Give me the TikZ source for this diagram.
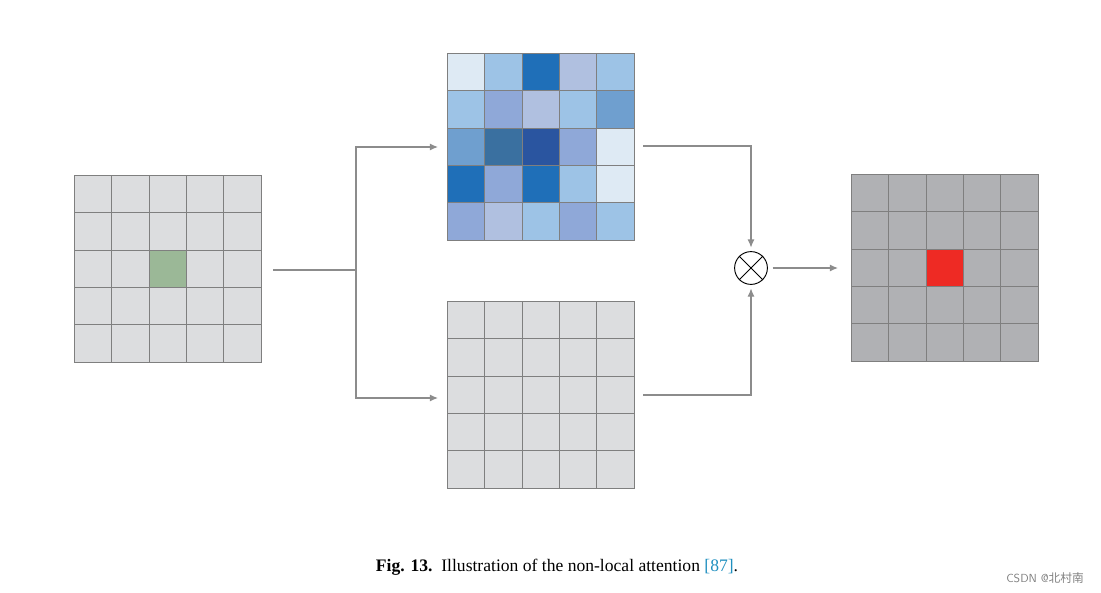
\documentclass[tikz,border=0pt]{standalone}
\usepackage{fontspec}
\setmainfont{Liberation Serif}
\newfontfamily\cjk{Noto Sans CJK SC}
\definecolor{cellg}{HTML}{DCDDDF}
\definecolor{celld}{HTML}{B0B1B4}
\definecolor{gline}{HTML}{7F7F7F}
\definecolor{greenc}{HTML}{9BB897}
\definecolor{redc}{HTML}{EE2A24}
\definecolor{arr}{HTML}{8C8C8C}
\definecolor{refc}{HTML}{1F8FBF}
\definecolor{bA}{HTML}{DEEAF4}
\definecolor{bB}{HTML}{9DC3E6}
\definecolor{bC}{HTML}{1F6FB8}
\definecolor{bD}{HTML}{B0C0E0}
\definecolor{bE}{HTML}{8FA8D8}
\definecolor{bF}{HTML}{6F9FCF}
\definecolor{bG}{HTML}{3A70A0}
\definecolor{bH}{HTML}{2A55A0}
\begin{document}
\begin{tikzpicture}[x=0.03cm,y=-0.03cm,
  cell/.style={draw=gline,line width=0.5pt},
  conn/.style={draw=arr,line width=1pt},
  tip/.style={conn,-{Latex[length=7pt,width=6pt]}}]
\useasboundingbox (0,0) rectangle (1101,593);
\usetikzlibrary{arrows.meta}
% grid helper
\newcommand{\mygrid}[4]{% x,y,fill,center fill
  \foreach \i in {0,...,4}{\foreach \j in {0,...,4}{
    \filldraw[cell,fill=#3] ({#1+\i*37.4},{#2+\j*37.4}) rectangle +(37.4,37.4);}}
  \filldraw[cell,fill=#4] ({#1+2*37.4},{#2+2*37.4}) rectangle +(37.4,37.4);}
\mygrid{74}{175}{cellg}{greenc}
\node[minimum size=0pt,inner sep=0pt] (in) at (167.5,268) {};
\mygrid{447}{301}{cellg}{cellg}
\mygrid{851}{174}{celld}{redc}
% blue grid
\def\rowsB{{"bA","bB","bC","bD","bB"},{"bB","bE","bD","bB","bF"},{"bF","bG","bH","bE","bA"},{"bC","bE","bC","bB","bA"},{"bE","bD","bB","bE","bB"}}
\foreach \r [count=\j from 0] in {{bA,bB,bC,bD,bB},{bB,bE,bD,bB,bF},{bF,bG,bH,bE,bA},{bC,bE,bC,bB,bA},{bE,bD,bB,bE,bB}}{
  \foreach \c [count=\i from 0] in \r {
    \filldraw[cell,fill=\c] ({447+\i*37.4},{53+\j*37.4}) rectangle +(37.4,37.4);}}
% connectors
\coordinate (s) at (273,270);
\coordinate (b) at (356,270);
\coordinate (ta) at (438,147);
\coordinate (tb) at (438,398);
\draw[conn] (s) -- (b);
\draw[tip] (b) |- (ta);
\draw[tip] (b) |- (tb);
\node[draw=black,circle,line width=0.8pt,minimum size=28pt,inner sep=0pt] (mul) at (751,268) {};
\draw[line width=0.8pt] (mul.north west) -- (mul.south east) (mul.north east) -- (mul.south west);
\coordinate (oa) at (643,146);
\coordinate (ob) at (643,395);
\draw[tip] (oa) -| ([yshift=3pt]mul.north);
\draw[tip] (ob) -| ([yshift=-3pt]mul.south);
\coordinate (out) at (838,268);
\draw[tip] ([xshift=4pt]mul.east) -- (out);
% caption
\node[font=\fontsize{15}{18}\selectfont] (cap) at (557,567) {\textbf{Fig. 13.}\ \ Illustration of the non-local attention \textcolor{refc}{[87]}.};
\node[font=\fontsize{10}{12}\selectfont\sffamily,text=gray,anchor=east] (wm) at (1088,578) {CSDN @{\cjk 北村南}};
\end{tikzpicture}
\end{document}
